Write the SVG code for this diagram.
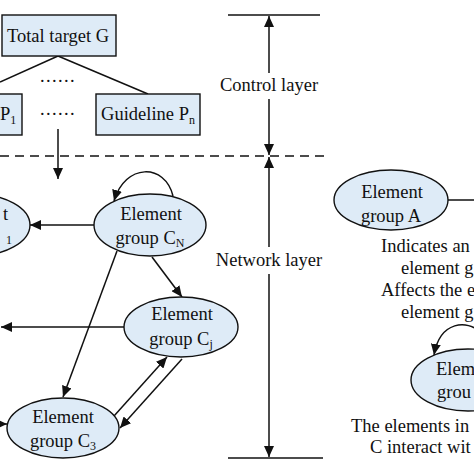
<svg xmlns="http://www.w3.org/2000/svg" width="474" height="474" viewBox="0 0 474 474">
<style>
.box{fill:#deebf7;stroke:#111;stroke-width:1.4}
.ell{fill:#deebf7;stroke:#111;stroke-width:1.4}
.t{font-family:"Liberation Serif","Times New Roman",serif;font-size:18.5px;fill:#111}
.c{text-anchor:middle}
.sub{font-size:12px}
.ln{stroke:#111;stroke-width:1.5;fill:none}
.arr{stroke:#111;stroke-width:1.5;fill:none;marker-end:url(#ah)}
</style>
<defs>
<marker id="ah" markerUnits="userSpaceOnUse" markerWidth="12" markerHeight="10" refX="11" refY="5" orient="auto">
<path d="M0,0 L11,5 L0,10 Z" fill="#111"/>
</marker>
</defs>

<g id="connectors">
<line class="ln" x1="58" y1="56" x2="0" y2="82"/>
<line class="ln" x1="58" y1="56" x2="148" y2="94"/>
<line class="arr" x1="58" y1="129" x2="58" y2="179"/>
<line class="arr" x1="94" y1="225" x2="30" y2="225"/>
<path class="arr" d="M173,196 C165,163 125,163 114,201"/>
<line class="arr" x1="152" y1="257" x2="182" y2="297"/>
<line class="arr" x1="117" y1="251" x2="63" y2="397"/>
<line class="arr" x1="114" y1="416" x2="167" y2="357"/>
<line class="arr" x1="182" y1="359" x2="120" y2="428"/>
<line class="arr" x1="124" y1="327" x2="1" y2="327"/>
<line class="arr" x1="-20" y1="424" x2="7" y2="424"/>
<line class="ln" x1="448" y1="200" x2="474" y2="200"/>
<path class="arr" d="M480,332 C468,320 440,320 434,355"/>
</g>

<g id="layers">
<line class="ln" x1="0" y1="156" x2="324" y2="156" stroke-dasharray="9 6"/>
<line class="ln" x1="228" y1="15" x2="320" y2="15"/>
<line class="ln" x1="228" y1="458" x2="323" y2="458"/>
<line class="ln" x1="269" y1="73" x2="269" y2="16" style="marker-end:url(#ah)"/>
<line class="ln" x1="269" y1="99" x2="269" y2="155" style="marker-end:url(#ah)"/>
<line class="ln" x1="269" y1="247" x2="269" y2="157" style="marker-end:url(#ah)"/>
<line class="ln" x1="269" y1="274" x2="269" y2="457" style="marker-end:url(#ah)"/>
<text class="t c" x="269" y="91">Control layer</text>
<text class="t c" x="269" y="266">Network layer</text>
</g>

<g id="goal">
<rect class="box" x="2" y="15" width="114" height="41"/>
<text class="t c" x="58" y="42">Total target G</text>
</g>
<g id="guideline-p1">
<rect class="box" x="-80" y="94" width="102" height="41"/>
<text class="t" x="0" y="120">P<tspan class="sub" dy="4">1</tspan></text>
</g>
<g id="guideline-pn">
<rect class="box" x="96" y="94" width="104" height="41"/>
<text class="t c" x="148" y="120">Guideline P<tspan class="sub" dy="4">n</tspan></text>
</g>
<g id="dots">
<text class="t" x="40" y="82" letter-spacing="1.4">......</text>
<text class="t" x="40" y="115" letter-spacing="1.4">......</text>
</g>

<g id="c1">
<ellipse class="ell" cx="-26" cy="225" rx="56" ry="31"/>
<text class="t" x="3" y="220">t</text>
<text class="t" x="6" y="244"><tspan class="sub">1</tspan></text>
</g>
<g id="cn">
<ellipse class="ell" cx="150" cy="225" rx="56" ry="31"/>
<text class="t c" x="151" y="220">Element</text>
<text class="t c" x="150" y="244">group C<tspan class="sub" dy="3">N</tspan></text>
</g>
<g id="cj">
<ellipse class="ell" cx="181" cy="327" rx="57" ry="30"/>
<text class="t c" x="182" y="320">Element</text>
<text class="t c" x="181" y="345">group C<tspan class="sub" dy="3">j</tspan></text>
</g>
<g id="c3">
<ellipse class="ell" cx="63" cy="428" rx="56" ry="30"/>
<text class="t c" x="63" y="423">Element</text>
<text class="t c" x="63" y="447">group C<tspan class="sub" dy="3">3</tspan></text>
</g>
<g id="legend-a">
<ellipse class="ell" cx="391" cy="200" rx="57" ry="30"/>
<text class="t c" x="392" y="198">Element</text>
<text class="t c" x="391" y="222">group A</text>
<text class="t" x="381" y="252">Indicates an</text>
<text class="t" x="401" y="274">element g</text>
<text class="t" x="381" y="296">Affects the e</text>
<text class="t" x="401" y="318">element g</text>
</g>
<g id="legend-c">
<ellipse class="ell" cx="468" cy="380" rx="57" ry="31"/>
<text class="t" x="436" y="375">Elem</text>
<text class="t" x="437" y="398">grou</text>
<text class="t" x="351" y="432">The elements in</text>
<text class="t" x="370" y="453">C interact wit</text>
</g>
</svg>
